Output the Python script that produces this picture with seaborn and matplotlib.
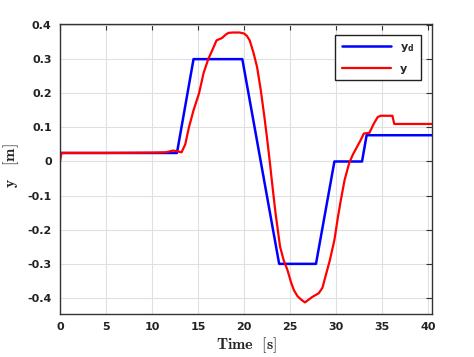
import numpy as np
import pandas as pd
import seaborn as sns
import matplotlib
matplotlib.use('Agg')
import matplotlib.pyplot as plt

# Опорный сигнал y_d
t_d = [0, 12.7, 14.5, 19.8, 23.8, 27.8, 29.8, 32.8, 33.3, 40.4]
y_d = [0.025, 0.025, 0.3, 0.3, -0.3, -0.3, 0.0, 0.0, 0.077, 0.077]

# Выход системы y
t_y = [0, 0.15, 5, 10, 11.5, 12.3, 12.7, 13.2, 13.6, 14.0, 14.5, 15.1, 15.6,
       16.1, 16.6, 17.0, 17.6, 18.0, 18.3, 18.8, 19.5, 20.0, 20.3, 20.6, 21.0,
       21.4, 21.8, 22.2, 22.5, 22.8, 23.0, 23.4, 23.9, 24.3, 24.7, 25.1, 25.4,
       25.8, 26.2, 26.6, 27.0, 27.4, 28.1, 28.5, 28.8, 29.3, 29.8, 30.2, 30.5,
       30.9, 31.4, 31.8, 32.1, 32.6, 33.0, 33.6, 34.1, 34.5, 34.8, 36.1, 36.3,
       40.4]
y_out = [0.0, 0.025, 0.025, 0.026, 0.027, 0.032, 0.030, 0.027, 0.05, 0.10,
         0.15, 0.20, 0.26, 0.30, 0.33, 0.355, 0.362, 0.372, 0.377, 0.378,
         0.378, 0.375, 0.368, 0.355, 0.32, 0.277, 0.21, 0.13, 0.065, -0.005,
         -0.055, -0.15, -0.25, -0.29, -0.318, -0.355, -0.377, -0.395, -0.405,
         -0.413, -0.405, -0.397, -0.386, -0.37, -0.34, -0.29, -0.23, -0.16,
         -0.113, -0.055, -0.005, 0.02, 0.035, 0.06, 0.082, 0.084, 0.112, 0.13,
         0.134, 0.134, 0.11, 0.11]

x_ticks = [0, 5, 10, 15, 20, 25, 30, 35, 40]
y_ticks = [-0.4, -0.3, -0.2, -0.1, 0, 0.1, 0.2, 0.3, 0.4]
y_tick_labels = ['-0.4', '-0.3', '-0.2', '-0.1', '0', '0.1', '0.2', '0.3', '0.4']

sns.set_theme(style='whitegrid')
plt.rcParams['font.family'] = ['DejaVu Sans']
plt.rcParams['mathtext.fontset'] = 'cm'

fig, ax = plt.subplots(figsize=(4.74, 3.57), dpi=100)
fig.subplots_adjust(left=0.1266, right=0.9114, top=0.9328, bottom=0.1204)

sns.lineplot(x=t_d, y=y_d, color='#0000ff', linewidth=1.8, ax=ax,
             label='y$_\\mathregular{d}$')
sns.lineplot(x=t_y, y=y_out, color='#ff0000', linewidth=1.6, ax=ax,
             label='y', sort=False)

ax.set_xlim(0, 40.4)
ax.set_ylim(-0.447, 0.403)
ax.set_xticks(x_ticks)
ax.set_xticklabels([str(v) for v in x_ticks])
ax.set_yticks(y_ticks)
ax.set_yticklabels(y_tick_labels)

ax.grid(True, color='#e0e0e0', linewidth=0.8)
for s in ax.spines.values():
    s.set_visible(True)
    s.set_color('#333333')
    s.set_linewidth(1.0)
ax.tick_params(direction='in', length=4, width=0.8, color='#333333',
               top=True, right=True, labelsize=8, labelcolor='#222222', pad=6)
for lab in ax.get_xticklabels() + ax.get_yticklabels():
    lab.set_fontweight('bold')

ax.set_xlabel(r'$\mathbf{Time\ \ [s]}$', fontsize=11.5)
ax.set_ylabel(r'$\mathbf{y\ \ \ [m]}$', fontsize=11.5)
ax.xaxis.set_label_coords(0.5, -0.075)
ax.yaxis.set_label_coords(-0.105, 0.51)

leg = ax.legend(loc='upper right', bbox_to_anchor=(0.97, 0.962),
                borderaxespad=0, fancybox=False, frameon=True,
                handlelength=4.4, fontsize=8, labelspacing=0.9,
                borderpad=0.6)
leg.get_frame().set_edgecolor('#222222')
leg.get_frame().set_linewidth(1.0)
leg.get_frame().set_alpha(1)
for txt in leg.get_texts():
    txt.set_fontweight('bold')

fig.savefig('out.png', dpi=100)
